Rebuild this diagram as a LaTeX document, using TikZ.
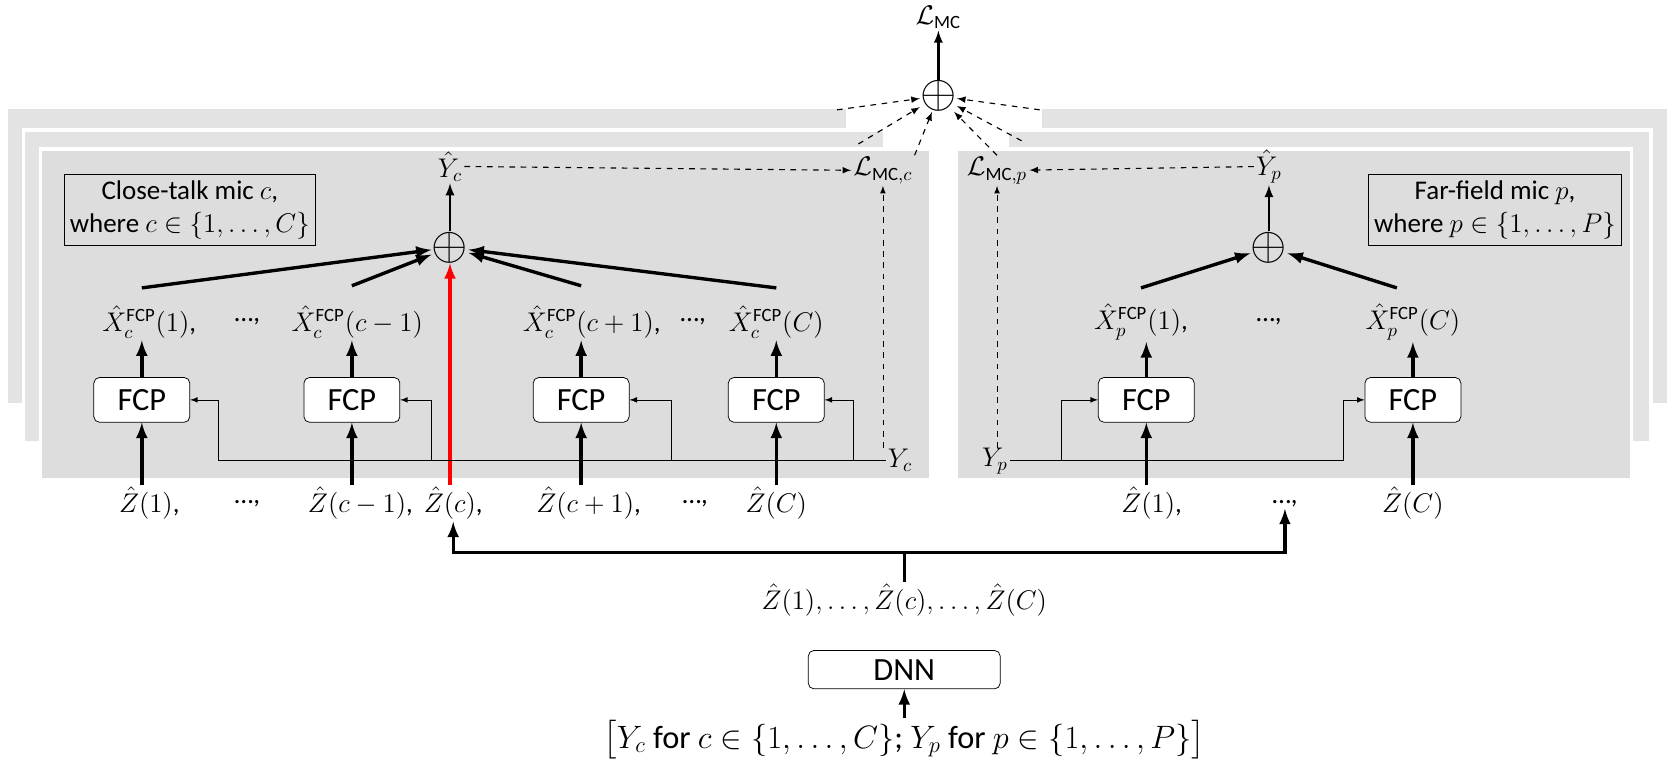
\documentclass[tikz,border=0pt]{standalone}
\usepackage{amsmath}
\usepackage{amssymb}
\usepackage{fontspec}
\setmainfont{Carlito}
\usetikzlibrary{positioning}

\tikzset{
  layer/.style={draw=white, line width=2pt},
  fcp/.style={draw, rounded corners=3pt, minimum width=1.8cm, minimum height=0.84cm, fill=white, font=\LARGE},
  note/.style={draw, fill=none, align=center, font=\Large, inner sep=3pt},
  thick arrow/.style={-latex, line width=1.8pt},
  thin arrow/.style={-latex, thin},
  loss arrow/.style={-latex, dashed, semithick},
  lbl/.style={font=\Large, inner sep=1pt},
}

\begin{document}
\begin{tikzpicture}[x=0.02cm, y=-0.02cm]
  \useasboundingbox (0,0) rectangle (1568,717);

  % stacked panels
  \fill[gray!22, layer] (6,100) rectangle (795,380);
  \fill[gray!22, layer] (22,122) rectangle (830,415);
  \fill[gray!27, layer] (38,140) rectangle (873,450);
  \fill[gray!22, layer] (975,100) rectangle (1565,380);
  \fill[gray!22, layer] (944,122) rectangle (1548,415);
  \fill[gray!27, layer] (897,140) rectangle (1530,450);

  % top sum
  \node[lbl] (L) at (880,16) {$\mathcal{L}_{\mathrm{MC}}$};
  \node[inner sep=0pt, font=\Huge] (sum) at (880,90) {$\oplus$};
  \draw[thick arrow, line width=1.2pt] (sum) -- (L);
  \coordinate (s1) at (785,103);
  \coordinate (s2) at (805,135);
  \coordinate (s3) at (975,103);
  \coordinate (s4) at (958,132);

  % close-talk panel
  \node[note] (ct) at (178,197) {Close-talk mic $c$,\\ where $c\in\{1,\dots,C\}$};
  \node[lbl] (Lc) at (828,160) {$\mathcal{L}_{\mathrm{MC},c}$};
  \node[lbl] (Yhc) at (422,156) {$\hat{Y}_c$};
  \node[inner sep=0pt, font=\Huge] (sc) at (422,232) {$\oplus$};
  \draw[thick arrow, line width=1.2pt] (sc) -- (Yhc);
  \draw[loss arrow] (Yhc) -- (Lc);

  \node[lbl] (xc1) at (140,302) {$\hat{X}_c^{\mathrm{FCP}}(1)$,};
  \node[lbl] at (232,302) {\dots,};
  \node[lbl] (xc2) at (335,302) {$\hat{X}_c^{\mathrm{FCP}}(c-1)$};
  \node[lbl] (xc3) at (555,302) {$\hat{X}_c^{\mathrm{FCP}}(c+1)$,};
  \node[lbl] at (650,302) {\dots,};
  \node[lbl] (xc4) at (728,302) {$\hat{X}_c^{\mathrm{FCP}}(C)$};

  \node[fcp] (fc1) at (133,375) {FCP};
  \node[fcp] (fc2) at (330,375) {FCP};
  \node[fcp] (fc3) at (545,375) {FCP};
  \node[fcp] (fc4) at (728,375) {FCP};

  \node[lbl] (zc1) at (140,472) {$\hat{Z}(1)$,};
  \node[lbl] at (232,472) {\dots,};
  \node[lbl] (zc2) at (338,472) {$\hat{Z}(c-1)$,};
  \node[lbl] (zc) at (425,472) {$\hat{Z}(c)$,};
  \node[lbl] (zc3) at (552,472) {$\hat{Z}(c+1)$,};
  \node[lbl] at (652,472) {\dots,};
  \node[lbl] (zc4) at (728,472) {$\hat{Z}(C)$};

  \draw[thick arrow] (133,270) -- (sc);
  \draw[thick arrow] (330,268) -- (sc);
  \draw[thick arrow] (545,268) -- (sc);
  \draw[thick arrow] (728,270) -- (sc);
  \foreach \f/\x in {fc1/xc1, fc2/xc2, fc3/xc3, fc4/xc4} {
    \draw[thick arrow] (\f) -- (\f |- \x.south);
  }
  \foreach \z/\f in {zc1/fc1, zc2/fc2, zc3/fc3, zc4/fc4} {
    \draw[thick arrow] (\f |- \z.north) -- (\f);
  }
  \draw[-latex, red, line width=1.8pt] (422,455) -- (sc);

  \node[lbl] (Yc) at (844,432) {$Y_c$};
  \draw[thin] (Yc) -- (205,432);
  \draw[thin arrow] (205,432) |- (fc1);
  \draw[thin arrow] (405,432) |- (fc2);
  \draw[thin arrow] (630,432) |- (fc3);
  \draw[thin arrow] (800,432) |- (fc4);
  \draw[loss arrow, thin] (828,420) -- (Lc);

  % far-field panel
  \node[note] (ff) at (1402,197) {Far-field mic $p$,\\ where $p\in\{1,\dots,P\}$};
  \node[lbl] (Lp) at (935,160) {$\mathcal{L}_{\mathrm{MC},p}$};
  \node[lbl] (Yhp) at (1190,156) {$\hat{Y}_p$};
  \node[inner sep=0pt, font=\Huge] (sp) at (1190,232) {$\oplus$};
  \draw[thick arrow, line width=1.2pt] (sp) -- (Yhp);
  \draw[loss arrow] (Yhp) -- (Lp);

  \node[lbl] (xp1) at (1070,302) {$\hat{X}_p^{\mathrm{FCP}}(1)$,};
  \node[lbl] at (1190,302) {\dots,};
  \node[lbl] (xp2) at (1325,302) {$\hat{X}_p^{\mathrm{FCP}}(C)$};
  \node[fcp] (fp1) at (1075,375) {FCP};
  \node[fcp] (fp2) at (1325,375) {FCP};
  \node[lbl] (zp1) at (1080,472) {$\hat{Z}(1)$,};
  \node[lbl] (zpd) at (1205,472) {\dots,};
  \node[lbl] (zp2) at (1325,472) {$\hat{Z}(C)$};

  \draw[thick arrow] (1070,270) -- (sp);
  \draw[thick arrow] (1310,270) -- (sp);
  \draw[thick arrow] (fp1) -- (fp1 |- xp1.south);
  \draw[thick arrow] (fp2) -- (fp2 |- xp2.south);
  \draw[thick arrow] (fp1 |- zp1.north) -- (fp1);
  \draw[thick arrow] (fp2 |- zp2.north) -- (fp2);

  \node[lbl] (Yp) at (933,432) {$Y_p$};
  \draw[thin] (Yp) -- (1260,432);
  \draw[thin arrow] (995,432) |- (fp1);
  \draw[thin arrow] (1260,432) |- (fp2);
  \draw[loss arrow, thin] (935,420) -- (Lp);

  % losses into the top sum
  \draw[loss arrow] (s1) -- (sum);
  \draw[loss arrow] (s2) -- (sum);
  \draw[loss arrow] (Lc.north east) -- (sum);
  \draw[loss arrow] (Lp.north) -- (sum);
  \draw[loss arrow] (s4) -- (sum);
  \draw[loss arrow] (s3) -- (sum);

  % DNN and bus
  \node[lbl] (zall) at (848,563) {$\hat{Z}(1),\dots,\hat{Z}(c),\dots,\hat{Z}(C)$};
  \node[fcp, minimum width=3.6cm, minimum height=0.72cm] (dnn) at (848,628) {DNN};
  \node[lbl, font=\LARGE] (in) at (848,694) {$\big[Y_c$ for $c\in\{1,\dots,C\}$; $Y_p$ for $p\in\{1,\dots,P\}\big]$};
  \draw[thick arrow] (in) -- (dnn);
  \coordinate (bus) at (848,518);
  \draw[line width=1.8pt] (zall.north) -- (bus);
  \draw[thick arrow] (bus) -| (zc.south);
  \draw[thick arrow] (bus) -| (zpd.south);
\end{tikzpicture}
\end{document}
